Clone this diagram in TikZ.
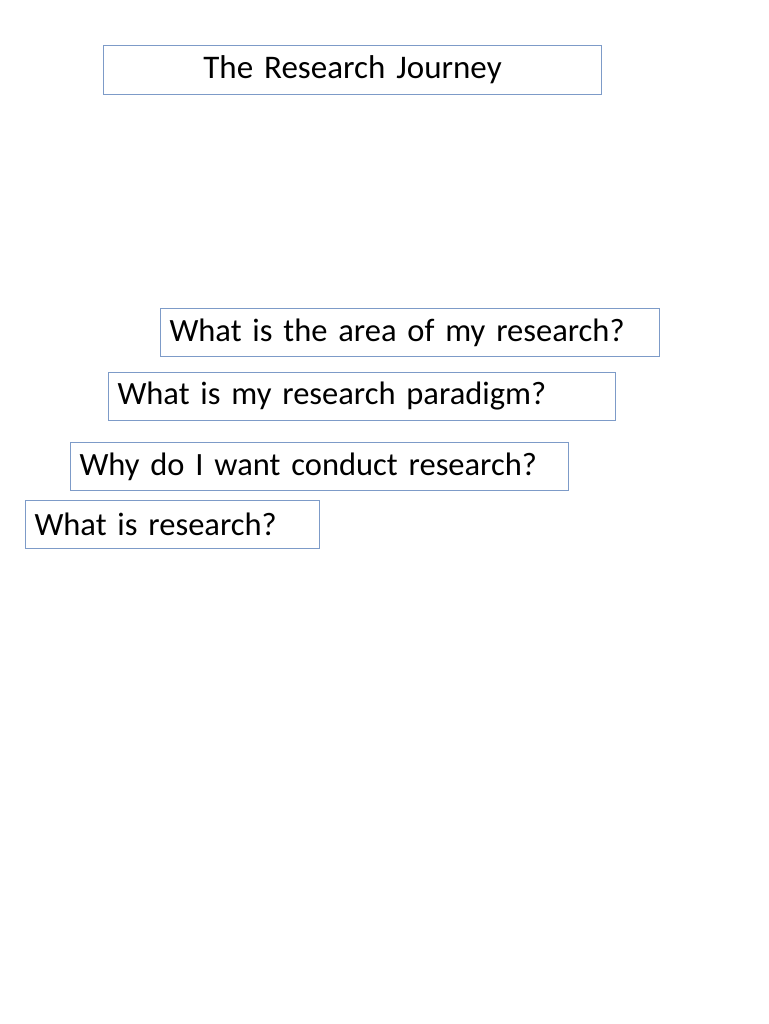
\documentclass[tikz,border=0pt]{standalone}
\usepackage{fontspec}
\setmainfont{Carlito}
\definecolor{boxblue}{RGB}{125,155,200}

\begin{document}
\begin{tikzpicture}[x=1pt,y=-1pt,
	qbox/.style={draw=boxblue,line width=1pt,anchor=north west,
		inner xsep=9pt,inner ysep=0pt,minimum height=48pt,align=left,
		font=\fontsize{32.5}{36}\selectfont}]
\useasboundingbox (0,0) rectangle (768,1024);

\node[qbox,text width=480pt,align=center,minimum height=49pt,font=\fontsize{33}{38}\selectfont] (title) at (103,45) {The Research Journey};

\node[qbox,text width=481pt] (area) at (160,308) {What is the area of my research?};
\node[qbox,text width=489pt] (paradigm) at (108,372) {What is my research paradigm?};
\node[qbox,text width=480pt] (why) at (70,442) {Why do I want conduct research?};
\node[qbox,text width=276pt] (what) at (25,500) {What is research?};

\end{tikzpicture}
\end{document}
